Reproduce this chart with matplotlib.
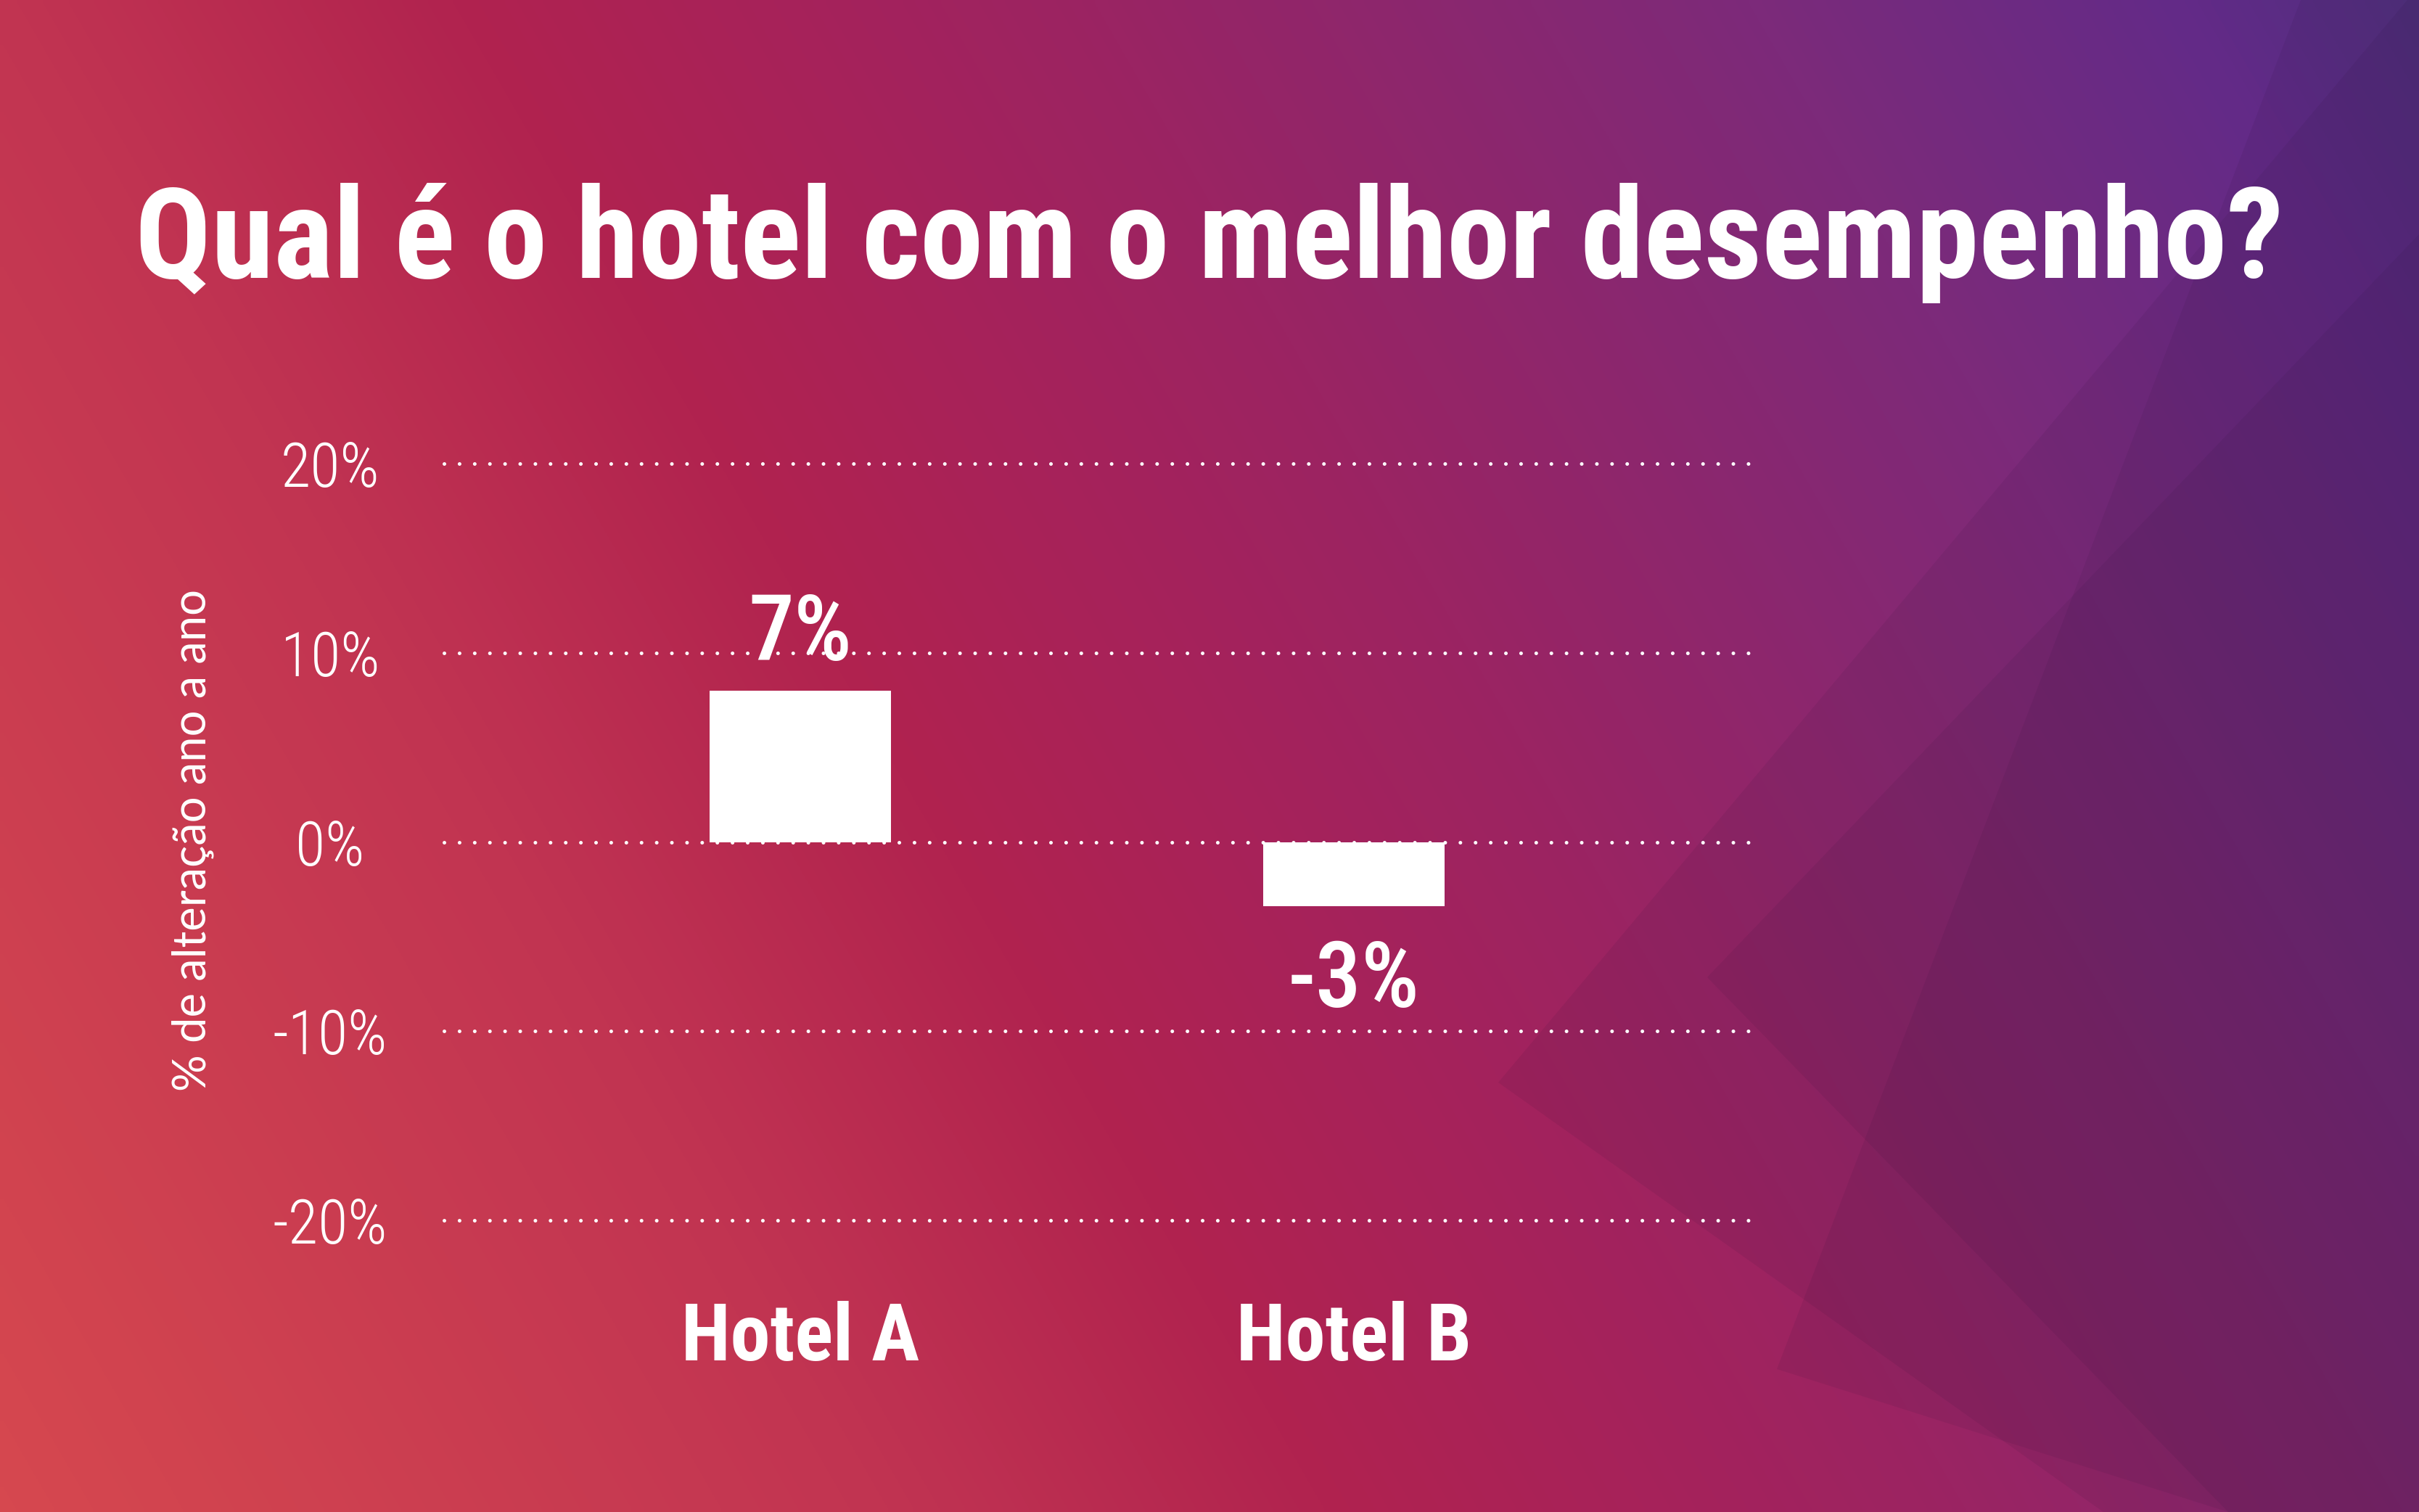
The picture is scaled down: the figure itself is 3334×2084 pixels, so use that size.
import numpy as np
import matplotlib
matplotlib.use('Agg')
import matplotlib.pyplot as plt
from matplotlib import font_manager as fm
from matplotlib.colors import LinearSegmentedColormap
from matplotlib.patches import Polygon
from matplotlib.textpath import TextPath

# data
hotels = ['Hotel A', 'Hotel B']
change = [8.0, -3.4]          # bar heights (% year on year)
value_labels = ['7%', '-3%']  # labels as printed on the chart
y_ticks = [-20, -10, 0, 10, 20]
y_tick_labels = ['-20%', '-10%', '0%', '10%', '20%']
title = 'Qual é o hotel com o melhor desempenho?'
y_label = '% de alteração ano a ano'

W, H = 3334, 2084


def pick_font(weight):
    # first condensed face that is really installed, else a plain one
    fonts = fm.fontManager.ttflist
    names = {f.name for f in fonts}
    for fam in ['Liberation Sans Narrow', 'Roboto Condensed', 'Open Sans Condensed',
                'Noto Sans Condensed', 'DejaVu Sans Condensed']:
        if fam in names:
            return fm.FontProperties(family=fam, weight=weight)
    for f in fonts:
        if f.name == 'DejaVu Sans' and str(f.stretch) in ('condensed', '300'):
            return fm.FontProperties(family='DejaVu Sans', stretch='condensed', weight=weight)
    for fam in ['Roboto', 'Liberation Sans', 'DejaVu Sans']:
        if fam in names:
            return fm.FontProperties(family=fam, weight=weight)


def fit(s, fp, w_px=None, h_px=None, h_ref=None):
    # font size (pt) so that the ink of s is w_px wide / h_ref is h_px high
    sizes = []
    if w_px:
        ext = TextPath((0, 0), s, size=100, prop=fp).get_extents()
        sizes.append(100 * w_px / (ext.width * 100 / 72))
    if h_px:
        ext = TextPath((0, 0), h_ref or s, size=100, prop=fp).get_extents()
        sizes.append(100 * h_px / (ext.height * 100 / 72))
    return min(sizes)


f_bold = pick_font('bold')
f_med = pick_font('medium')
f_light = pick_font('light')
f_axis = fm.FontProperties(family=['Lato', 'DejaVu Sans'])

fig = plt.figure(figsize=(W / 100, H / 100), dpi=100)

# background gradient (bottom-left red -> top-right violet)
bg = fig.add_axes([0, 0, 1, 1])
bg.set_xlim(0, W)
bg.set_ylim(H, 0)
bg.axis('off')
gx, gy = np.meshgrid(np.linspace(0, W, 400), np.linspace(0, H, 250))
ang = np.radians(30)
t = (gx * np.cos(ang) + (H - gy) * np.sin(ang))
t = t / t.max()
cmap = LinearSegmentedColormap.from_list('bg', [
    (0.0, '#d6484f'), (0.27, '#c13452'), (0.4, '#b1234f'),
    (0.5, '#a7225a'), (0.6, '#9a2463'), (0.8, '#7c2a7a'),
    (0.93, '#632a88'), (1.0, '#50307e')])
bg.imshow(t, cmap=cmap, extent=[0, W, H, 0], aspect='auto', interpolation='bilinear')

# darker translucent facets on the right
shapes = [
    [(2065, 1492), (3318, 0), (W, 0), (W, H), (2899, H)],
    [(2449, 1887), (3171, 0), (W, 0), (W, H), (3071, H)],
    [(2353, 1347), (W, 323), (W, H), (3071, H)],
]
for pts in shapes:
    bg.add_patch(Polygon(pts, closed=True, facecolor='#2a1238', alpha=0.09, lw=0))

t_size = fit(title, f_bold, w_px=2947, h_px=145, h_ref='H')
fig.text(0.5, 1 - 383 / H, title, ha='center', va='baseline', color='white',
         fontproperties=f_bold, fontsize=t_size)

# chart
ax = fig.add_axes([612 / W, 1 - 1682 / H, 1807 / W, 1043 / H])
ax.patch.set_alpha(0)
for s in ax.spines.values():
    s.set_visible(False)
ax.set_ylim(-20, 20)
ax.set_xlim(-0.643, 1.725)

for v in y_ticks:
    ax.axhline(v, color='white', lw=3.6, linestyle=(0, (0.01, 4.17)),
               dash_capstyle='round', clip_on=False, zorder=1)

x = np.arange(len(hotels))
ax.bar(x, change, width=0.328, color='white', zorder=2)

v_size = fit('-3%', f_med, w_px=171, h_px=94, h_ref='3%')
for xi, v, lab in zip(x, change, value_labels):
    off = 30 if v >= 0 else -100
    ax.annotate(lab, (xi, v), xytext=(0, off), textcoords='offset points',
                ha='center', va='baseline', color='white',
                fontproperties=f_med, fontsize=v_size)

y_size = fit('-20%', f_light, w_px=153, h_px=62, h_ref='20%')
ax.set_yticks(y_ticks)
ax.set_yticklabels(y_tick_labels, fontproperties=f_light, fontsize=y_size,
                   color='white', ha='center')
ax.tick_params(axis='y', length=0, pad=113)

h_size = fit('Hotel A', f_bold, w_px=321, h_px=92, h_ref='H')
ax.set_xticks(x)
ax.set_xticklabels(hotels, fontproperties=f_bold, fontsize=h_size, color='white',
                   va='baseline')
ax.tick_params(axis='x', length=0, pad=139)

a_size = fit(y_label, f_axis, w_px=687)
fig.text(266 / W, 1 - 1158 / H, y_label, rotation=90, ha='center', va='center',
         color='white', fontproperties=f_axis, fontsize=a_size)

fig.savefig('out.png', dpi=100)
